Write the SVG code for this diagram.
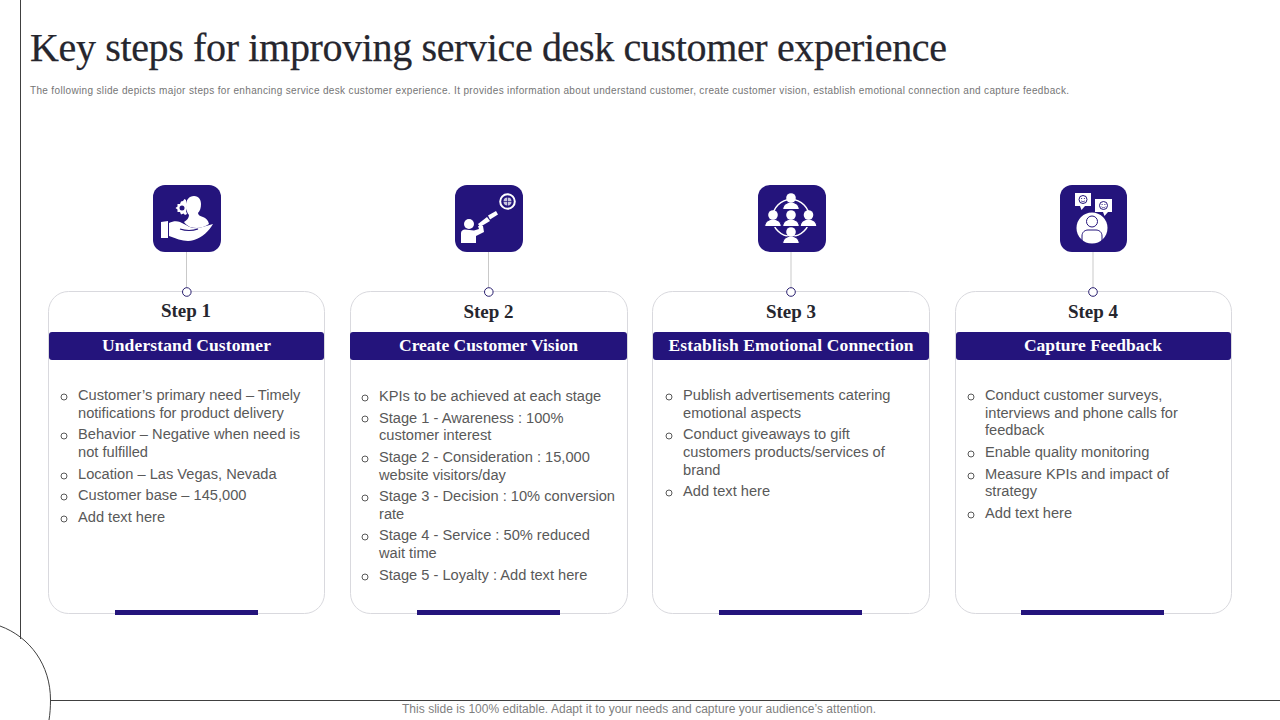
<svg xmlns="http://www.w3.org/2000/svg" width="1280" height="720" viewBox="0 0 1280 720">
<style>
.title{font:40px "Liberation Serif",serif;fill:#26262e;stroke:#26262e;stroke-width:.25}
.sub{font:10px "Liberation Sans",Arial,sans-serif;fill:#757575}
.foot{font:12px "Liberation Sans",Arial,sans-serif;fill:#7f7f7f}
.card{fill:#fff;stroke:#d9d9de;stroke-width:1}
.band{fill:#24147c}
.step{font:bold 19px "Liberation Serif",serif;fill:#26262e;text-anchor:middle}
.head{font:bold 17.500px "Liberation Serif",serif;fill:#fff;text-anchor:middle}
.li{font:14.650px "Liberation Sans",Arial,sans-serif;fill:#595959}
.bul{fill:none;stroke:#595959;stroke-width:1}
.conn{stroke:#c9c9c9;stroke-width:1;fill:none}
.dot{fill:#fff;stroke:#2a2070;stroke-width:1}
.frame{stroke:#404040;stroke-width:1;fill:none}
.ic{fill:#fff}
.icl{fill:none;stroke:#fff;stroke-width:1.500}
.icb{fill:none;stroke:#24147c;stroke-width:1}
.pp{fill:#fff;stroke:#24147c;stroke-width:1.200}
</style>
<defs>
<g id="person"><path class="pp" d="M-8.500 11.500C-8 8-7 6.500-5 5.500C-3 4.500-1.500 4 0 4C1.500 4 3 4.500 5 5.500C7 6.500 8 8 8.500 11.500Z"/><circle cx="0" cy="0" r="4.800" class="ic"/></g>
<g id="face"><circle class="icb" cx="0" cy="0" r="4"/><circle cx="-1.400" cy="-1" r=".6" fill="#24147c"/><circle cx="1.400" cy="-1" r=".6" fill="#24147c"/><path class="icb" d="M-2 1.200C-1 2.500 1 2.500 2 1.200" style="stroke-width:.7"/></g>
</defs>
<rect width="1280" height="720" fill="#fff"/>
<g id="frame">
<path class="frame" d="M20.500 0V639"/>
<path class="frame" d="M50 700.500H1280"/>
<path class="frame" d="M0 626C30 637 50.500 665 50.500 700C50.500 707 50 714 49 720"/>
</g>
<text class="title" x="30" y="60.500" textLength="917" lengthAdjust="spacing">Key steps for improving service desk customer experience</text>
<text class="sub" x="30" y="94" textLength="1039" lengthAdjust="spacing">The following slide depicts major steps for enhancing service desk customer experience. It provides information about understand customer, create customer vision, establish emotional connection and capture feedback.</text>
<text class="foot" x="402" y="713" textLength="474" lengthAdjust="spacing">This slide is 100% editable. Adapt it to your needs and capture your audience’s attention.</text>

<g id="connectors">
<path class="conn" d="M186.500 252V288"/>
<path class="conn" d="M488.500 252V288"/>
<path class="conn" d="M791 252V288"/>
<path class="conn" d="M1093 252V288"/>
</g>

<g id="step1">
<rect class="card" x="48.500" y="291.500" width="276" height="322" rx="20"/>
<circle class="dot" cx="186.800" cy="292" r="4.300"/>
<rect class="band" x="115" y="610" width="143" height="5"/>
<text class="step" x="186" y="317">Step 1</text>
<rect class="band" x="49" y="332" width="275" height="28" rx="3"/>
<text class="head" x="186.500" y="351" textLength="169" lengthAdjust="spacing">Understand Customer</text>
<circle class="bul" cx="64" cy="397" r="3"/><text class="li" x="78" y="400">Customer’s primary need – Timely</text>
<text class="li" x="78" y="418">notifications for product delivery</text>
<circle class="bul" cx="64" cy="436" r="3"/><text class="li" x="78" y="439">Behavior – Negative when need is</text>
<text class="li" x="78" y="457">not fulfilled</text>
<circle class="bul" cx="64" cy="476" r="3"/><text class="li" x="78" y="479">Location – Las Vegas, Nevada</text>
<circle class="bul" cx="64" cy="497" r="3"/><text class="li" x="78" y="500">Customer base – 145,000</text>
<circle class="bul" cx="64" cy="519" r="3"/><text class="li" x="78" y="522">Add text here</text>
<rect class="band" x="153" y="185" width="68" height="67" rx="12"/>
<path class="ic" d="M183 201l1.500-2 1.500 1 0 3 1 5-1 3 1 3-2 1-1.500-1.500-2.500 1-1-2.500-2.500 0 0-2.500-2-1.500 2-1.500 0-2.500 2.500 0 1-2.500Z"/>
<circle cx="182" cy="208" r="2.500" fill="#24147c"/>
<path class="ic" d="M194 196C199 196 201 200 201 204C201 208 200 211 198 213C198 215 200 216 203 217C206 218 208 220 209 224C203 228 197 229 190 227C187 225 185 224 184 222C187 220 189 218 189 215C187 213 186 209 186 205C186 200 189 196 194 196Z"/>
<path class="ic" d="M161 222L168 221V238L161 238Z"/>
<path class="ic" d="M169 223C173 221 177 221 180 222L186 225C189 227 194 229 199 228L213 224C209 231 203 237 194 240C186 243 178 239 169 236Z"/>
<path class="icb" d="M180 229C186 231 192 231 198 229" style="stroke-width:1.200"/>
</g>

<g id="step2">
<rect class="card" x="350.500" y="291.500" width="277" height="322" rx="20"/>
<circle class="dot" cx="488.800" cy="292" r="4.300"/>
<rect class="band" x="417" y="610" width="143" height="5"/>
<text class="step" x="488.500" y="318">Step 2</text>
<rect class="band" x="350" y="332" width="277" height="28" rx="3"/>
<text class="head" x="488.500" y="351" textLength="179" lengthAdjust="spacing">Create Customer Vision</text>
<circle class="bul" cx="365" cy="398" r="3"/><text class="li" x="379" y="401">KPIs to be achieved at each stage</text>
<circle class="bul" cx="365" cy="419" r="3"/><text class="li" x="379" y="423">Stage 1 - Awareness : 100%</text>
<text class="li" x="379" y="440">customer interest</text>
<circle class="bul" cx="365" cy="459" r="3"/><text class="li" x="379" y="462">Stage 2 - Consideration : 15,000</text>
<text class="li" x="379" y="480">website visitors/day</text>
<circle class="bul" cx="365" cy="498" r="3"/><text class="li" x="379" y="501">Stage 3 - Decision : 10% conversion</text>
<text class="li" x="379" y="519">rate</text>
<circle class="bul" cx="365" cy="537" r="3"/><text class="li" x="379" y="540">Stage 4 - Service : 50% reduced</text>
<text class="li" x="379" y="558">wait time</text>
<circle class="bul" cx="365" cy="577" r="3"/><text class="li" x="379" y="580">Stage 5 - Loyalty : Add text here</text>
<rect class="band" x="455" y="185" width="68" height="67" rx="12"/>
<circle class="ic" cx="469" cy="224" r="5"/>
<path class="ic" d="M461 243V233C461 231 463 229.500 465 229.500L474 230.500L479 229L478 226L483 226L484 232L476 236V243Z"/>
<path class="ic" d="M478 224L487 217L490 221L480 227Z"/>
<path class="ic" d="M488 215.500L496 211L498 214.500L490 219.500Z"/>
<circle class="icl" cx="507.500" cy="201.500" r="7.300" style="stroke-width:2"/>
<circle class="ic" cx="507.500" cy="201.500" r="4" style="opacity:.75"/>
<path class="icb" d="M507.500 196V207M502 201.500H513" style="stroke-width:.7"/>
</g>

<g id="step3">
<rect class="card" x="652.500" y="291.500" width="277" height="322" rx="20"/>
<circle class="dot" cx="791" cy="292" r="4.300"/>
<rect class="band" x="719" y="610" width="143" height="5"/>
<text class="step" x="791" y="318">Step 3</text>
<rect class="band" x="653" y="332" width="276" height="28" rx="3"/>
<text class="head" x="791" y="351" textLength="245" lengthAdjust="spacing">Establish Emotional Connection</text>
<circle class="bul" cx="669" cy="397" r="3"/><text class="li" x="683" y="400">Publish advertisements catering</text>
<text class="li" x="683" y="418">emotional aspects</text>
<circle class="bul" cx="669" cy="436" r="3"/><text class="li" x="683" y="439">Conduct giveaways to gift</text>
<text class="li" x="683" y="457">customers products/services of</text>
<text class="li" x="683" y="475">brand</text>
<circle class="bul" cx="669" cy="493" r="3"/><text class="li" x="683" y="496">Add text here</text>
<rect class="band" x="758" y="185" width="68" height="67" rx="12"/>
<circle class="icl" cx="791" cy="218" r="18.500"/>
<use href="#person" x="791" y="198"/>
<use href="#person" x="773" y="215"/>
<use href="#person" x="791" y="215"/>
<use href="#person" x="808.500" y="215"/>
<use href="#person" x="791" y="232"/>
</g>

<g id="step4">
<rect class="card" x="955.500" y="291.500" width="276" height="322" rx="20"/>
<circle class="dot" cx="1093" cy="292" r="4.300"/>
<rect class="band" x="1021" y="610" width="143" height="5"/>
<text class="step" x="1093" y="318">Step 4</text>
<rect class="band" x="956" y="332" width="275" height="28" rx="3"/>
<text class="head" x="1093" y="351" textLength="138" lengthAdjust="spacing">Capture Feedback</text>
<circle class="bul" cx="971" cy="397" r="3"/><text class="li" x="985" y="400">Conduct customer surveys,</text>
<text class="li" x="985" y="418">interviews and phone calls for</text>
<text class="li" x="985" y="435">feedback</text>
<circle class="bul" cx="971" cy="454" r="3"/><text class="li" x="985" y="457">Enable quality monitoring</text>
<circle class="bul" cx="971" cy="476" r="3"/><text class="li" x="985" y="479">Measure KPIs and impact of</text>
<text class="li" x="985" y="496">strategy</text>
<circle class="bul" cx="971" cy="515" r="3"/><text class="li" x="985" y="518">Add text here</text>
<rect class="band" x="1060" y="185" width="67" height="67" rx="12"/>
<path class="ic" d="M1075 193H1091V206H1085L1081.500 210L1080 206H1075Z"/>
<use href="#face" x="1083" y="199.500"/>
<path class="ic" d="M1095 199H1112V212H1108L1104.500 216L1103 212H1095Z"/>
<use href="#face" x="1103.500" y="205.500"/>
<circle class="ic" cx="1092" cy="228" r="15.500"/>
<circle class="icb" cx="1092" cy="221.500" r="5.500"/>
<path class="icb" d="M1082 243V236C1082 232 1085 230 1088 230H1096C1099 230 1102 232 1102 236V243"/>
</g>
</svg>
